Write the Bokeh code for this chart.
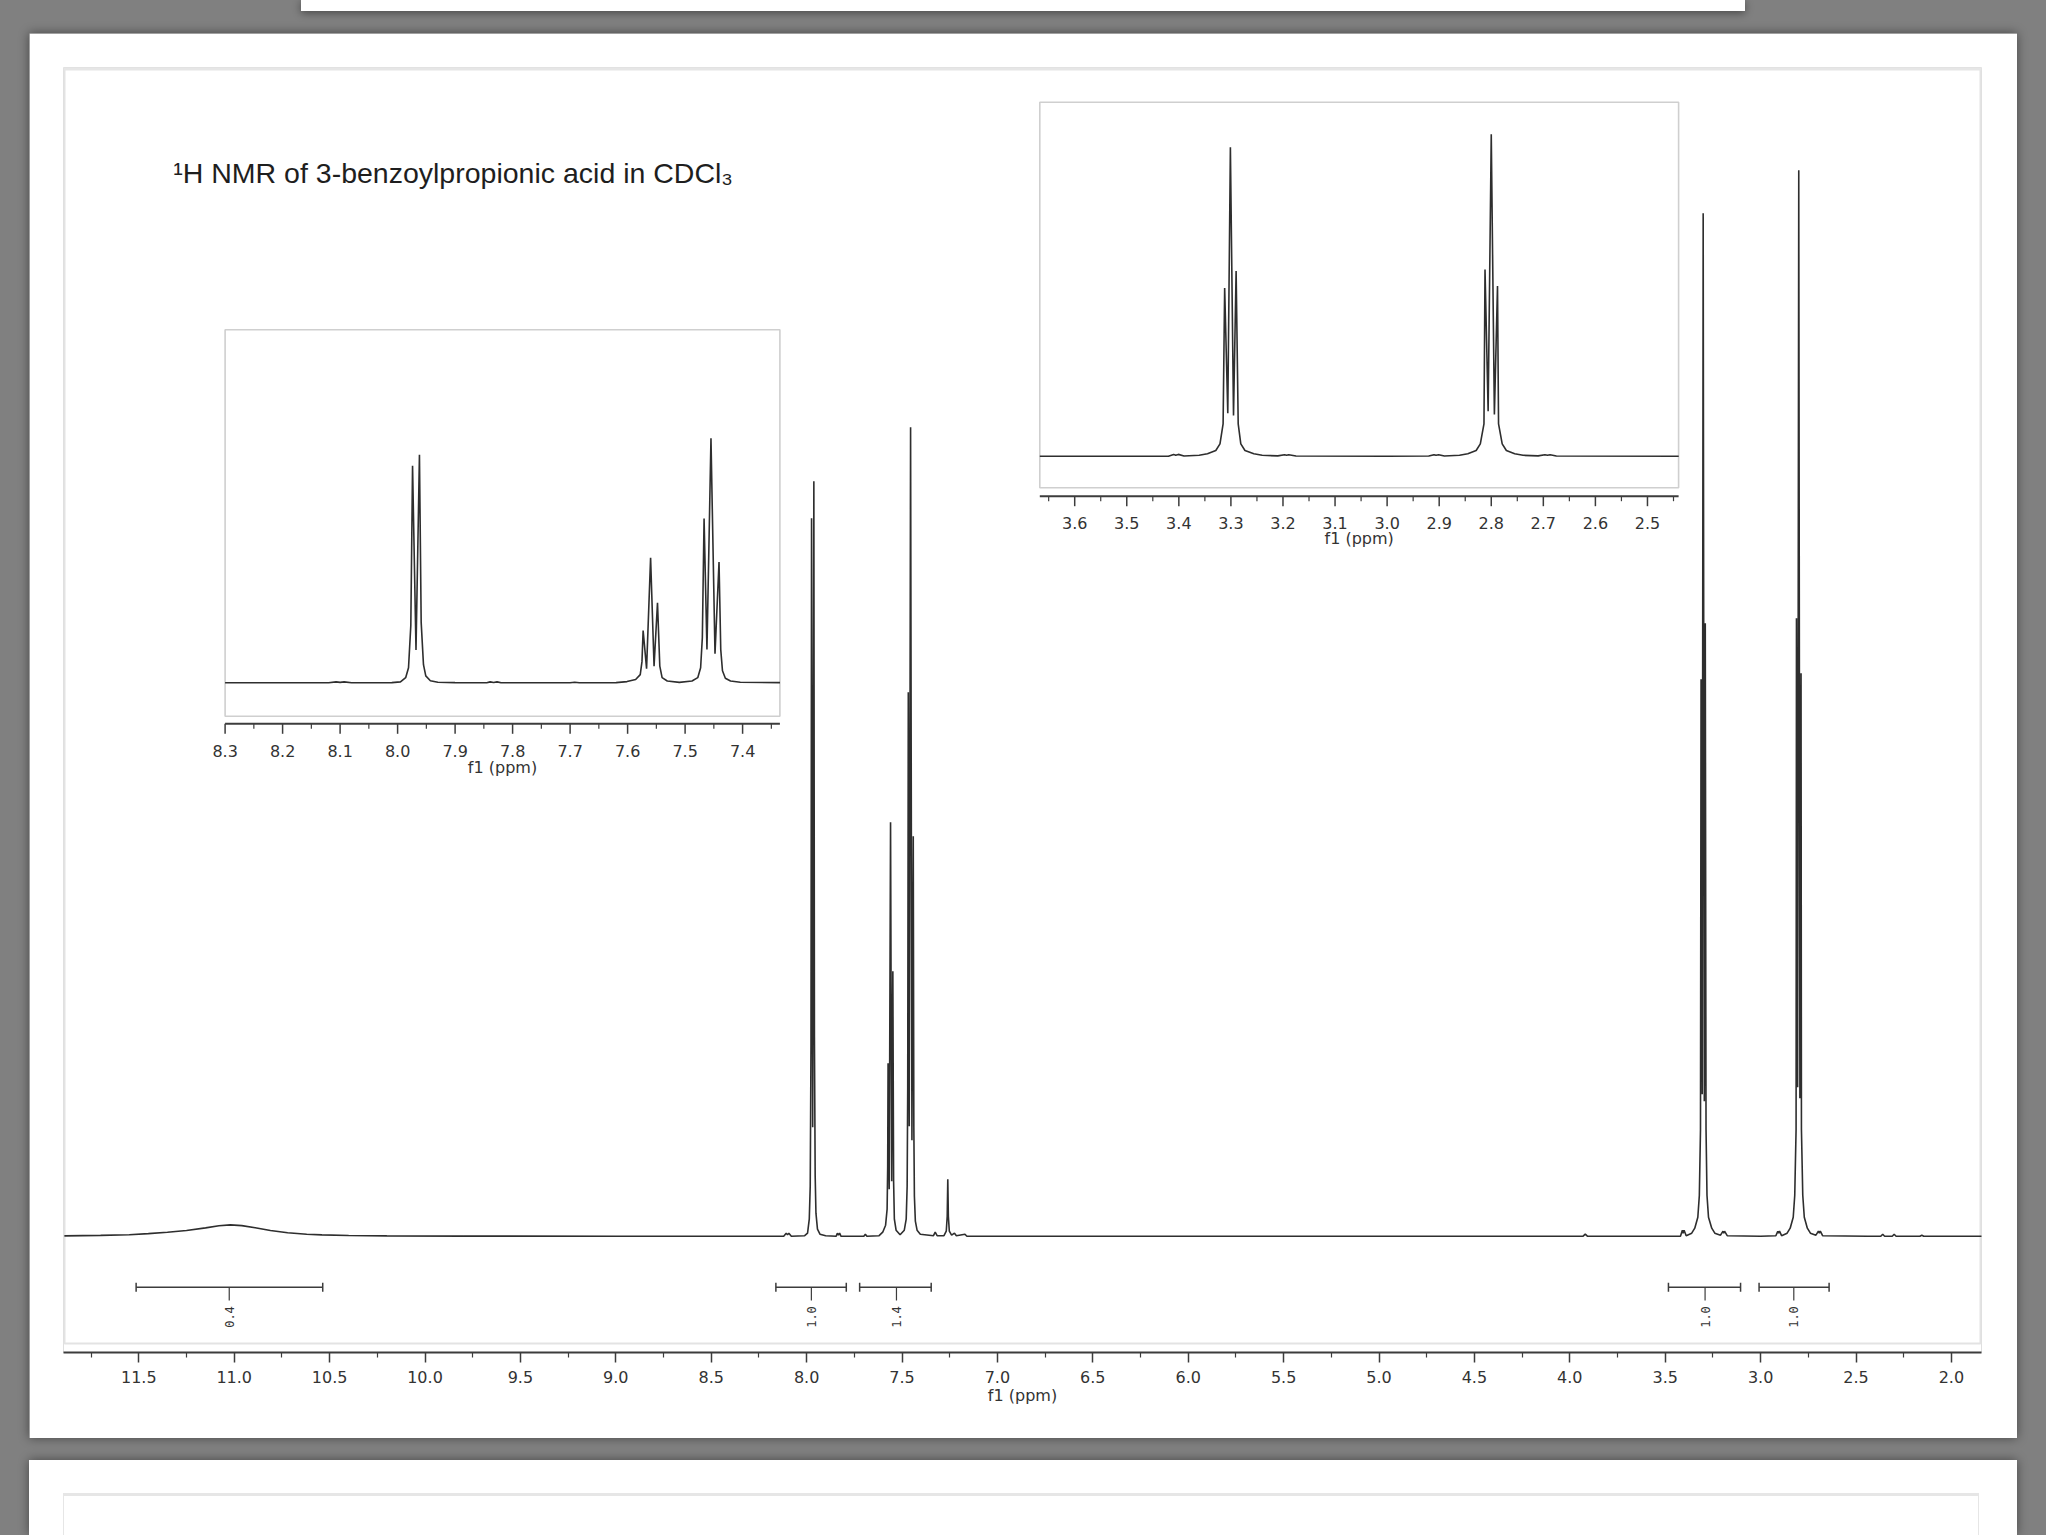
import math
from bokeh.plotting import figure
from bokeh.models import Range1d, FixedTicker, PrintfTickFormatter, Div
from bokeh.layouts import column
from bokeh.core.properties import value
from bokeh.embed import file_html
from bokeh.resources import INLINE

# ---------------- data ----------------
title_text = "¹H NMR of 3-benzoylpropionic acid in CDCl₃"

# spectrum: chemical shift (ppm) and intensity (arbitrary units, main-plot scale)
ppm = [11.89, 11.70, 11.55, 11.45, 11.35, 11.25, 11.15, 11.08, 11.02, 10.96,
       10.89, 10.81, 10.72, 10.62, 10.54, 10.40, 10.20, 9.80, 9.00, 8.300,
       8.120, 8.107, 8.100, 8.093, 8.080, 8.010, 7.995, 7.986, 7.981, 7.977,
       7.974, 7.968, 7.962, 7.959, 7.955, 7.951, 7.943, 7.930, 7.900, 7.845,
       7.839, 7.833, 7.827, 7.820, 7.700, 7.692, 7.684, 7.620, 7.601, 7.586,
       7.578, 7.575, 7.573, 7.567, 7.560, 7.554, 7.548, 7.544, 7.540, 7.531,
       7.510, 7.488, 7.478, 7.473, 7.470, 7.467, 7.462, 7.455, 7.448, 7.441,
       7.438, 7.435, 7.430, 7.421, 7.404, 7.335, 7.326, 7.316, 7.280, 7.268,
       7.263, 7.260, 7.257, 7.252, 7.240, 7.225, 7.215, 7.170, 7.160, 6.000,
       4.500, 3.930, 3.919, 3.908, 3.667, 3.420, 3.410, 3.406, 3.401, 3.390,
       3.361, 3.345, 3.329, 3.321, 3.315, 3.312, 3.306, 3.301, 3.295, 3.290,
       3.286, 3.281, 3.273, 3.256, 3.240, 3.210, 3.197, 3.193, 3.189, 3.175,
       3.000, 2.920, 2.910, 2.906, 2.901, 2.890, 2.861, 2.845, 2.829, 2.821,
       2.814, 2.812, 2.806, 2.800, 2.794, 2.788, 2.786, 2.779, 2.771, 2.755,
       2.739, 2.710, 2.697, 2.692, 2.687, 2.675, 2.440, 2.370, 2.360, 2.350,
       2.310, 2.300, 2.290, 2.165, 2.155, 2.145, 1.840]
intensity = [0.3, 0.8, 1.5, 2.6, 4.0, 5.7, 8.3, 10.4, 11.3, 10.6,
             8.5, 5.7, 3.5, 2.0, 1.3, 0.7, 0.3, 0.1, 0.0, 0.0,
             0.0, 3.0, 1.5, 3.0, 0.0, 0.5, 3.0, 17.0, 50.0, 190.0,
             718.0, 109.0, 755.0, 200.0, 60.0, 23.0, 7.0, 2.0, 0.5, 0.0,
             3.0, 1.0, 3.0, 0.0, 0.0, 2.0, 0.0, 0.5, 4.0, 11.0,
             27.0, 70.0, 173.0, 47.0, 414.0, 55.0, 265.0, 55.0, 17.0, 6.0,
             1.5, 6.0, 17.0, 50.0, 150.0, 544.0, 110.0, 809.0, 96.0, 400.0,
             110.0, 40.0, 15.0, 6.0, 2.0, 0.5, 4.0, 0.5, 0.5, 5.0,
             20.0, 57.0, 20.0, 5.0, 1.0, 3.0, 0.5, 2.0, 0.0, 0.0,
             0.0, 0.0, 2.0, 0.0, 0.0, 0.0, 6.0, 3.0, 6.0, 0.5,
             3.0, 8.0, 19.0, 41.0, 107.0, 557.0, 142.0, 1023.0, 135.0, 613.0,
             107.0, 41.0, 19.0, 8.0, 3.0, 1.0, 5.0, 3.0, 5.0, 0.5,
             0.0, 0.5, 5.0, 3.0, 5.0, 0.5, 3.0, 8.0, 19.0, 41.0,
             107.0, 618.0, 149.0, 1066.0, 138.0, 563.0, 107.0, 41.0, 19.0, 8.0,
             3.0, 1.0, 5.0, 3.0, 5.0, 0.5, 0.0, 0.0, 2.0, 0.0,
             0.0, 2.0, 0.0, 0.0, 1.0, 0.0, 0.0]

integral_from = [11.514, 8.161, 7.722, 3.483, 3.008]
integral_to = [10.536, 7.792, 7.347, 3.105, 2.641]
integral_center = [11.026, 7.975, 7.529, 3.291, 2.826]
integral_labels = ["0.4", "1.0", "1.4", "1.0", "1.0"]

main_ticks = [11.5, 11.0, 10.5, 10.0, 9.5, 9.0, 8.5, 8.0, 7.5, 7.0, 6.5, 6.0,
              5.5, 5.0, 4.5, 4.0, 3.5, 3.0, 2.5, 2.0]
inset1_ticks = [8.3, 8.2, 8.1, 8.0, 7.9, 7.8, 7.7, 7.6, 7.5, 7.4]
inset2_ticks = [3.6, 3.5, 3.4, 3.3, 3.2, 3.1, 3.0, 2.9, 2.8, 2.7, 2.6, 2.5]
axis_title = "f1 (ppm)"

# ---------------- layout constants (window pixels) ----------------
PAGE_X, PAGE_Y = 29, 33
FIG_W, FIG_H = 1988, 1405
FL, FR, FT, FB = 63, 1981, 67, 1352  # frame edges in window px

# (x_ref px, ppm at x_ref, px per ppm, baseline y px, units per px)
MAIN = (138.3, 11.5, 190.8, 1235.7, 1.0)
INS1 = (397.1, 8.0, 575.0, 682.3, 3.31)
INS2 = (1074.2, 3.6, 520.7, 455.7, 3.31)


def xv(px, m):
    return m[1] - (px - m[0]) / m[2]


def yv(py, m):
    return (m[3] - py) * m[4]


def xr(m):
    return Range1d(start=xv(FL, m), end=xv(FR, m))


def yr(m):
    return Range1d(start=yv(FB, m), end=yv(FT, m))


LINE = "#2e2e2e"
AXC = "#3c3c3c"
TXT = "#333333"

p = figure(width=FIG_W, height=FIG_H, x_range=xr(MAIN), y_range=yr(MAIN),
           output_backend="svg", toolbar_location=None, y_axis_location=None,
           min_border_left=FL - PAGE_X, min_border_right=PAGE_X + FIG_W - FR,
           min_border_top=FT - PAGE_Y, min_border_bottom=PAGE_Y + FIG_H - FB,
           background_fill_color="white", border_fill_color="white",
           outline_line_color=None, margin=(PAGE_Y - 11, 0, 0, PAGE_X))
p.styles = {"box-shadow": "0 0 10px rgba(0,0,0,0.45)"}
p.grid.visible = False
p.extra_x_ranges = {"i1": xr(INS1), "i2": xr(INS2)}
p.extra_y_ranges = {"i1": yr(INS1), "i2": yr(INS2)}

# main frame border
p.quad(left=[xv(FL + 1, MAIN)], right=[xv(FR - 1, MAIN)], bottom=[yv(1343, MAIN)],
       top=[yv(FT + 1, MAIN)], fill_color=None, line_color="#e3e3e3", line_width=2)
p.segment(x0=[xv(FL, MAIN)], x1=[xv(FR, MAIN)], y0=[yv(FT + 1.5, MAIN)], y1=[yv(FT + 1.5, MAIN)],
          line_color="#e6e6e6", line_width=3)

# main spectrum
p.line(ppm, intensity, line_color=LINE, line_width=1.6)

# integrals
yi = yv(1286.7, MAIN)
p.segment(x0=integral_from, x1=integral_to, y0=[yi] * 5, y1=[yi] * 5, line_color=AXC, line_width=1.5)
p.segment(x0=integral_from, x1=integral_from, y0=[yv(1282.2, MAIN)] * 5, y1=[yv(1291.2, MAIN)] * 5,
          line_color=AXC, line_width=1.5)
p.segment(x0=integral_to, x1=integral_to, y0=[yv(1282.2, MAIN)] * 5, y1=[yv(1291.2, MAIN)] * 5,
          line_color=AXC, line_width=1.5)
p.segment(x0=integral_center, x1=integral_center, y0=[yi] * 5, y1=[yv(1300, MAIN)] * 5,
          line_color=AXC, line_width=1.2)
p.text(x=integral_center, y=[yv(1316.5, MAIN)] * 5, text=integral_labels, angle=math.pi / 2,
       text_font=value("DejaVu Sans Mono"), text_font_size=value("12px"), text_color=TXT,
       text_align="center", text_baseline="middle")

# title
p.text(x=[xv(172.8, MAIN)], y=[yv(172, MAIN)], text=[title_text],
       text_font=value("Liberation Sans"), text_font_size=value("28.5px"), text_color="#1e1e1e",
       text_align="left", text_baseline="alphabetic")

# main axis
ax = p.xaxis[0]
ax.ticker = FixedTicker(ticks=main_ticks, minor_ticks=[t + 0.25 for t in main_ticks] + [1.75])
ax.formatter = PrintfTickFormatter(format="%.1f")
ax.axis_line_width = 2
ax.axis_line_color = AXC
ax.major_tick_line_color = AXC
ax.minor_tick_line_color = AXC
ax.major_tick_line_width = 1.5
ax.minor_tick_line_width = 1.2
ax.major_tick_in = 0
ax.major_tick_out = 10
ax.minor_tick_in = 0
ax.minor_tick_out = 5
ax.major_label_text_font = "DejaVu Sans"
ax.major_label_text_font_size = "16px"
ax.major_label_text_color = TXT
ax.major_label_standoff = 8
ax.axis_label = axis_title
ax.axis_label_text_font = "DejaVu Sans"
ax.axis_label_text_font_size = "16px"
ax.axis_label_text_font_style = "normal"
ax.axis_label_text_color = TXT
ax.axis_label_standoff = 0


def inset(name, m, box_px, axis_y, label_y, title_y, ticks):
    left_px, right_px, top_px, bot_px = box_px
    lo, hi = xv(right_px, m), xv(left_px, m)
    p.quad(left=[hi], right=[lo], top=[yv(top_px, m)], bottom=[yv(bot_px, m)],
           fill_color="white", line_color="#cfcfcf", line_width=1.6,
           x_range_name=name, y_range_name=name)
    xs = [x for x in ppm if lo - 1e-3 <= x <= hi + 1e-3]
    ys = [y for x, y in zip(ppm, intensity) if lo - 1e-3 <= x <= hi + 1e-3]
    p.line(xs, ys, line_color=LINE, line_width=1.6, x_range_name=name, y_range_name=name)
    ya = yv(axis_y, m)
    p.segment(x0=[hi], x1=[lo], y0=[ya], y1=[ya], line_color=AXC, line_width=2,
              x_range_name=name, y_range_name=name)
    p.segment(x0=ticks, x1=ticks, y0=[ya] * len(ticks), y1=[yv(axis_y + 10, m)] * len(ticks),
              line_color=AXC, line_width=1.5, x_range_name=name, y_range_name=name)
    minors = [round(t + 0.05, 3) for t in ticks] + [round(ticks[-1] - 0.05, 3)]
    minors = [t for t in minors if lo <= t <= hi]
    p.segment(x0=minors, x1=minors, y0=[ya] * len(minors), y1=[yv(axis_y + 5, m)] * len(minors),
              line_color=AXC, line_width=1.2, x_range_name=name, y_range_name=name)
    p.text(x=ticks, y=[yv(label_y, m)] * len(ticks), text=["%.1f" % t for t in ticks],
           text_font=value("DejaVu Sans"), text_font_size=value("16px"), text_color=TXT,
           text_align="center", text_baseline="middle", x_range_name=name, y_range_name=name)
    p.text(x=[(lo + hi) / 2], y=[yv(title_y, m)], text=[axis_title],
           text_font=value("DejaVu Sans"), text_font_size=value("16px"), text_color=TXT,
           text_align="center", text_baseline="middle", x_range_name=name, y_range_name=name)


inset("i1", INS1, (224.6, 779.4, 329.3, 715.7), 723.3, 750.0, 766.5, inset1_ticks)
inset("i2", INS2, (1039.3, 1678.1, 101.7, 487.3), 495.7, 522.7, 538.3, inset2_ticks)

top_strip = Div(text="", width=1444, height=11, margin=(0, 0, 0, 301),
                styles={"background-color": "white", "box-shadow": "0 2px 8px rgba(0,0,0,0.45)"})
bottom_page = Div(text='<div style="margin:33px 0 0 34px;width:1916px;height:60px;'
                       'border-top:3px solid #e6e6e6;border-left:1px solid #e6e6e6;'
                       'border-right:1px solid #e6e6e6;"></div>',
                  width=FIG_W, height=75, margin=(22, 0, 0, PAGE_X),
                  styles={"background-color": "white", "box-shadow": "0 0 10px rgba(0,0,0,0.45)"})
page = column(top_strip, p, bottom_page, spacing=0, width=2046, height=1535,
              styles={"background-color": "#808080"})

open("out.html", "w").write(file_html(page, INLINE))
